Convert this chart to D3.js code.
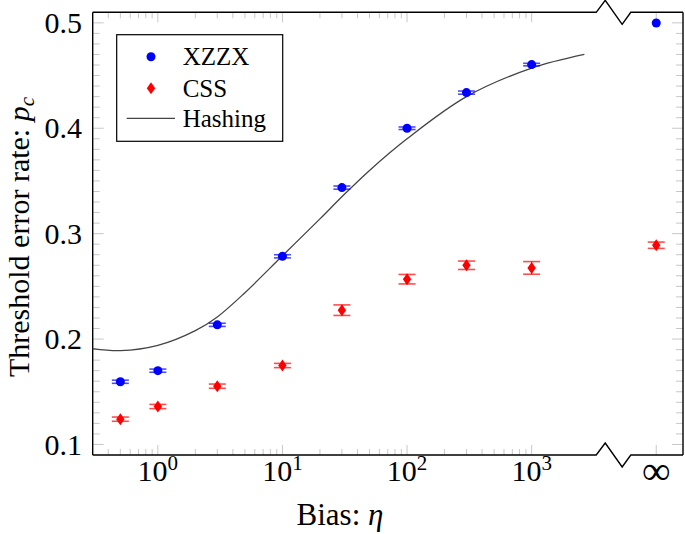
<!DOCTYPE html>
<html>
<head>
<meta charset="utf-8">
<title>Threshold vs bias</title>
<script src="https://d3js.org/d3.v7.min.js"></script>
<style>
  body { margin: 0; background: #fff; }
  text { font-family: "Liberation Serif", "Times New Roman", serif; fill: #000; }
</style>
</head>
<body>
<div id="viz"></div>
<script>

// data
var bias = [0.5, 1, 3, 10, 30, 100, 300, 1000, Infinity];
var xzzx = [0.1595, 0.1700, 0.2135, 0.2785, 0.3437, 0.4000, 0.4338, 0.4604, 0.4998];
var xzzxErr = [0.0015, 0.0015, 0.0015, 0.0015, 0.0015, 0.0012, 0.0015, 0.0012, 0];
var css = [0.1240, 0.1360, 0.1553, 0.1749, 0.2274, 0.2568, 0.2700, 0.2675, 0.2890];
var cssErr = [0.002, 0.002, 0.002, 0.002, 0.005, 0.0045, 0.004, 0.006, 0.003];

var hashEta = [0.3, 0.5, 1, 2, 3, 5, 10, 20, 30, 50, 100, 300, 1000, 2650];
var hashPc = [0.191, 0.189, 0.194, 0.208, 0.221, 0.244, 0.279, 0.314, 0.335, 0.360, 0.390, 0.430, 0.457, 0.470];

var yTicks = [0.1, 0.2, 0.3, 0.4, 0.5];
var xMajor = [1, 10, 100, 1000];
var xMajorExp = ["0", "1", "2", "3"];

// where infinity sits on the log axis, and where the axis is broken
var infAt = 1e4, breakFrom = 3300, breakTo = 6250;

var W = 685, H = 534;
var mLeft = 92.7, mRight = 683, mTop = 12.3, mBottom = 455;

var svg = d3.select("#viz").append("svg")
    .attr("width", W).attr("height", H);

var x = d3.scaleLog().domain([0.3, 16400]).range([mLeft, mRight]);
var y = d3.scaleLinear().domain([0.09, 0.51]).range([mBottom, mTop]);
var px = function(v) { return x(isFinite(v) ? v : infAt); };

// minor ticks
var minorX = x.ticks().filter(function(d) { return d > 0.3 && d <= 1000 && xMajor.indexOf(d) < 0; });
var minorY = d3.range(10, 51).map(function(d) { return d / 100; })
    .filter(function(d) { return yTicks.indexOf(d) < 0 && y(d) > mTop + 1; });

var tk = svg.append("g").attr("stroke", "#c8c8c8").attr("stroke-width", 1);
minorX.forEach(function(d) {
  tk.append("line").attr("x1", x(d)).attr("x2", x(d)).attr("y1", mBottom).attr("y2", mBottom - 6);
  tk.append("line").attr("x1", x(d)).attr("x2", x(d)).attr("y1", mTop).attr("y2", mTop + 6);
});
xMajor.concat([infAt]).forEach(function(d) {
  tk.append("line").attr("x1", x(d)).attr("x2", x(d)).attr("y1", mBottom).attr("y2", mBottom - 10);
  tk.append("line").attr("x1", x(d)).attr("x2", x(d)).attr("y1", mTop).attr("y2", mTop + 10);
});
minorY.forEach(function(d) {
  tk.append("line").attr("x1", mLeft).attr("x2", mLeft + 7).attr("y1", y(d)).attr("y2", y(d));
  tk.append("line").attr("x1", mRight).attr("x2", mRight - 7).attr("y1", y(d)).attr("y2", y(d));
});
yTicks.forEach(function(d) {
  tk.append("line").attr("x1", mLeft).attr("x2", mLeft + 11).attr("y1", y(d)).attr("y2", y(d));
  tk.append("line").attr("x1", mRight).attr("x2", mRight - 11).attr("y1", y(d)).attr("y2", y(d));
});

// frame with zigzag breaks
var b0 = x(breakFrom), b1 = x(breakTo), bw = b1 - b0;
function edge(yy, dir) {
  return [[mLeft, yy], [b0, yy], [b0 + bw * 0.26, yy - 12 * dir], [b0 + bw * 0.75, yy + 12 * dir], [b1, yy], [mRight, yy]];
}
var ln = d3.line();
svg.append("path").attr("d", ln(edge(mTop, 1))).attr("fill", "none").attr("stroke", "#000").attr("stroke-width", 1.4);
svg.append("path").attr("d", ln(edge(mBottom, 1))).attr("fill", "none").attr("stroke", "#000").attr("stroke-width", 1.4);
svg.append("line").attr("x1", mLeft).attr("x2", mLeft).attr("y1", mTop).attr("y2", mBottom)
    .attr("stroke", "#000").attr("stroke-width", 1.4);
svg.append("line").attr("x1", mRight).attr("x2", mRight).attr("y1", mTop).attr("y2", mBottom)
    .attr("stroke", "#000").attr("stroke-width", 1.4);

// tick labels
svg.append("g").selectAll("text").data(yTicks).join("text")
    .attr("x", 82).attr("y", function(d) { return y(d); }).attr("dy", "0.34em")
    .attr("text-anchor", "end").attr("font-size", 30)
    .text(function(d) { return d.toFixed(1); });

var xl = svg.append("g").selectAll("text").data(xMajor).join("text")
    .attr("x", function(d) { return x(d); }).attr("y", 481)
    .attr("text-anchor", "middle").attr("font-size", 30);
xl.append("tspan").text("10");
xl.append("tspan").attr("dy", -11).attr("font-size", 21).text(function(d, i) { return xMajorExp[i]; });

svg.append("text").attr("x", x(infAt)).attr("y", 484).attr("text-anchor", "middle")
    .attr("font-size", 40).text("∞");

// axis labels
svg.append("text").attr("x", 340).attr("y", 525).attr("text-anchor", "middle").attr("font-size", 31)
    .html('Bias: <tspan font-style="italic">η</tspan>');
var yl = svg.append("text").attr("transform", "translate(29,237) rotate(-90)")
    .attr("text-anchor", "middle").attr("font-size", 30);
yl.append("tspan").text("Threshold error rate: ");
yl.append("tspan").attr("font-style", "italic").text("p");
yl.append("tspan").attr("font-style", "italic").attr("font-size", 21).attr("dy", 5).text("c");

// hashing bound
svg.append("path")
    .datum(hashEta.map(function(d, i) { return [d, hashPc[i]]; }))
    .attr("fill", "none").attr("stroke", "#444").attr("stroke-width", 1.3)
    .attr("d", d3.line().curve(d3.curveCatmullRom.alpha(0.5))
      .x(function(d) { return x(d[0]); })
      .y(function(d) { return y(d[1]); }));

// error bars + markers
function errbars(vals, errs, color) {
  var g = svg.append("g");
  bias.forEach(function(b, i) {
    if (!errs[i]) return;
    var cx = px(b), lo = y(vals[i] - errs[i]), hi = y(vals[i] + errs[i]);
    g.append("line").attr("x1", cx).attr("x2", cx).attr("y1", lo).attr("y2", hi)
      .attr("stroke", color).attr("stroke-width", 1.2);
    [lo, hi].forEach(function(yy) {
      g.append("line").attr("x1", cx - 8.5).attr("x2", cx + 8.5).attr("y1", yy).attr("y2", yy)
        .attr("stroke", color).attr("stroke-opacity", 0.7).attr("stroke-width", 1.6);
    });
  });
}
errbars(xzzx, xzzxErr, "#0000ff");
errbars(css, cssErr, "#ff0000");

var diamond = "M0,-6L4.2,0L0,6L-4.2,0Z";

svg.append("g").selectAll("circle").data(xzzx).join("circle")
    .attr("cx", function(d, i) { return px(bias[i]); })
    .attr("cy", function(d) { return y(d); })
    .attr("r", 4.5).attr("fill", "#0000ff");

svg.append("g").selectAll("path").data(css).join("path")
    .attr("transform", function(d, i) { return "translate(" + px(bias[i]) + "," + y(d) + ")"; })
    .attr("d", diamond).attr("fill", "#ff0000");

// legend
var lg = svg.append("g");
lg.append("rect").attr("x", 116.7).attr("y", 34.7).attr("width", 166).attr("height", 106.6)
    .attr("fill", "#fff").attr("stroke", "#000").attr("stroke-width", 1.2);
lg.append("circle").attr("cx", 151).attr("cy", 56.7).attr("r", 4.5).attr("fill", "#0000ff");
lg.append("path").attr("transform", "translate(151,88.3)").attr("d", diamond).attr("fill", "#ff0000");
lg.append("line").attr("x1", 126.7).attr("x2", 175).attr("y1", 118.3).attr("y2", 118.3)
    .attr("stroke", "#444").attr("stroke-width", 1.3);
[["XZZX", 56.7], ["CSS", 88.3], ["Hashing", 118.3]].forEach(function(r) {
  lg.append("text").attr("x", 182.7).attr("y", r[1]).attr("dy", "0.33em").attr("font-size", 25).text(r[0]);
});

</script>
</body>
</html>
